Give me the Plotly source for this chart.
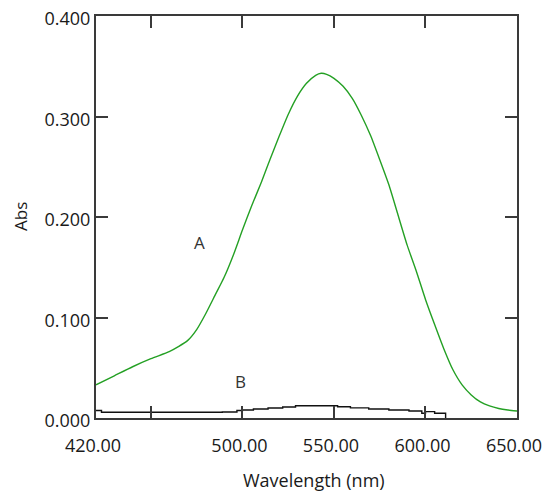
import plotly.graph_objects as go

# Curve A (green)
wl_a = [420, 430, 440, 450, 460, 465, 470, 475, 480, 485, 490, 495, 500, 505, 510,
        515, 520, 525, 530, 535, 540, 543, 546, 550, 555, 560, 565, 570, 575, 580,
        585, 590, 595, 600, 605, 610, 615, 620, 625, 630, 635, 640, 645, 650]
abs_a = [0.033, 0.042, 0.051, 0.059, 0.066, 0.071, 0.077, 0.088, 0.104, 0.122, 0.140,
         0.162, 0.187, 0.211, 0.233, 0.257, 0.280, 0.302, 0.320, 0.333, 0.341, 0.343,
         0.342, 0.338, 0.330, 0.318, 0.301, 0.281, 0.257, 0.232, 0.202, 0.172, 0.146,
         0.118, 0.093, 0.069, 0.048, 0.033, 0.023, 0.016, 0.012, 0.0095, 0.008, 0.007]

# Curve B (black, stepped)
wl_b = [420, 423, 489, 497, 500, 506, 514, 522, 529, 552, 559, 569, 580, 591, 598,
        600, 605, 611]
abs_b = [0.0075, 0.0057, 0.0060, 0.0075, 0.0080, 0.0090, 0.0100, 0.0110, 0.0122,
         0.0112, 0.0101, 0.0090, 0.0080, 0.0070, 0.0047, 0.0063, 0.0047, 0.0]

x_tickvals = [420, 450, 500, 550, 600, 650]
x_ticktext = ["420.00", "", "500.00", "550.00", "600.00", "650.00"]
y_tickvals = [0.0, 0.1, 0.2, 0.3, 0.4]
y_ticktext = ["0.000", "0.100", "0.200", "0.300", "0.400"]

FONT = "Open Sans"
TXT = "#1a1a1a"
AX = "#3a3a3a"

fig = go.Figure()
fig.add_trace(go.Scatter(x=wl_a, y=abs_a, mode="lines",
                         line=dict(color="#24a024", width=1.4, shape="spline", smoothing=0.6),
                         showlegend=False))
fig.add_trace(go.Scatter(x=wl_b, y=abs_b, mode="lines",
                         line=dict(color="#111111", width=1.4, shape="hv"),
                         showlegend=False))

fig.add_annotation(x=476.4, y=0.175, text="A", showarrow=False,
                   font=dict(family=FONT, size=17, color="#333333"))
fig.add_annotation(x=499.2, y=0.036, text="B", showarrow=False,
                   font=dict(family=FONT, size=17, color="#333333"))

fig.add_annotation(xref="paper", yref="paper", x=-0.181, y=0.502, text="Abs",
                   textangle=-90, showarrow=False, xanchor="center", yanchor="middle",
                   font=dict(family=FONT, size=17, color=TXT))
fig.add_annotation(xref="paper", yref="paper", x=0.519, y=-0.154, text="Wavelength (nm)",
                   showarrow=False, xanchor="center", yanchor="middle",
                   font=dict(family=FONT, size=18, color=TXT))

fig.update_layout(
    width=542, height=492,
    margin=dict(l=88, r=33, t=8, b=82, autoexpand=False),
    paper_bgcolor="white", plot_bgcolor="white",
    font=dict(family=FONT, size=18, color=TXT),
    xaxis=dict(range=[420, 650], tickvals=x_tickvals, ticktext=x_ticktext,
               ticks="inside", ticklen=12, tickwidth=2, tickcolor=AX,
               showline=True, linewidth=2, linecolor=AX, mirror="ticks",
               showgrid=False, zeroline=False, ticklabelstandoff=10,
               ticklabelshift=-3,
               ticklabeloverflow="allow", automargin=False,
               tickfont=dict(family=FONT, size=18, color=TXT)),
    yaxis=dict(range=[0, 0.4], tickvals=y_tickvals, ticktext=y_ticktext,
               ticks="inside", ticklen=12, tickwidth=2, tickcolor=AX,
               showline=True, linewidth=2, linecolor=AX, mirror="ticks",
               showgrid=False, zeroline=False, ticklabelstandoff=0,
               ticklabelshift=3,
               ticklabeloverflow="allow", automargin=False,
               tickfont=dict(family=FONT, size=18, color=TXT)),
)

fig.write_html("out.html")
